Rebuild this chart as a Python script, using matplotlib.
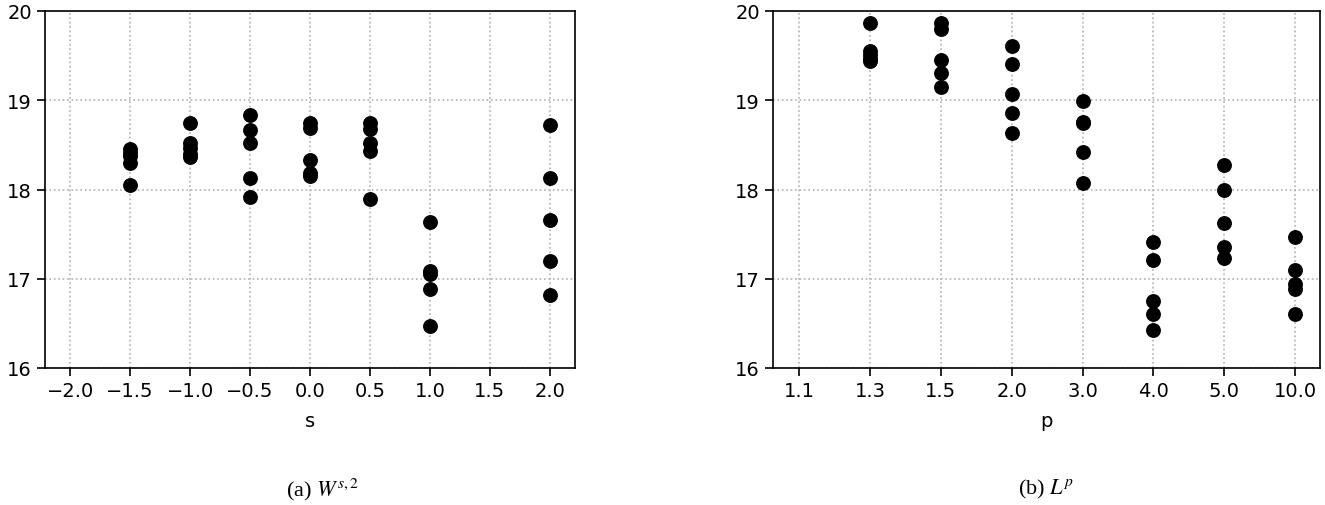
import matplotlib
matplotlib.use("Agg")
import matplotlib.pyplot as plt
import numpy as np

# Left panel: W^{s,2}
s_values = [-1.5, -1.0, -0.5, 0.0, 0.5, 1.0, 2.0]
s_scores = [
    [18.45, 18.41, 18.38, 18.30, 18.05],
    [18.74, 18.52, 18.46, 18.40, 18.36],
    [18.83, 18.67, 18.52, 18.13, 17.92],
    [18.75, 18.69, 18.33, 18.19, 18.15],
    [18.75, 18.68, 18.52, 18.43, 17.89],
    [17.64, 17.09, 17.05, 16.89, 16.47],
    [18.72, 18.13, 17.66, 17.20, 16.82],
]
s_ticks = [-2.0, -1.5, -1.0, -0.5, 0.0, 0.5, 1.0, 1.5, 2.0]

# Right panel: L^p
p_labels = ["1.1", "1.3", "1.5", "2.0", "3.0", "4.0", "5.0", "10.0"]
p_scores = [
    [],
    [19.86, 19.55, 19.51, 19.46, 19.44],
    [19.87, 19.80, 19.45, 19.30, 19.15],
    [19.61, 19.41, 19.07, 18.86, 18.63],
    [18.99, 18.76, 18.74, 18.42, 18.07],
    [17.41, 17.21, 16.75, 16.60, 16.43],
    [18.28, 17.99, 17.63, 17.36, 17.23],
    [17.47, 17.10, 16.94, 16.89, 16.61],
]
y_ticks = [16, 17, 18, 19, 20]

fig = plt.figure(figsize=(13.25, 5.06), dpi=100)
ax1 = fig.add_axes([45/1325, 137/506, 530/1325, 357/506])
ax2 = fig.add_axes([773/1325, 137/506, 547/1325, 357/506])

MS = 115
for x, ys in zip(s_values, s_scores):
    ax1.scatter([x]*len(ys), ys, s=MS, color="black", zorder=3, linewidths=0)
for i, ys in enumerate(p_scores):
    if ys:
        ax2.scatter([i]*len(ys), ys, s=MS, color="black", zorder=3, linewidths=0)

ax1.set_xlim(-2.21, 2.21)
ax1.set_xticks(s_ticks)
ax1.set_xticklabels([f"{t:.1f}".replace("-", "\u2212") for t in s_ticks])
ax1.set_xlabel("s", fontsize=14, labelpad=8)

ax2.set_xlim(-0.37, len(p_labels) - 1 + 0.35)
ax2.set_xticks(range(len(p_labels)))
ax2.set_xticklabels(p_labels)
ax2.set_xlabel("p", fontsize=14, labelpad=8)

for ax in (ax1, ax2):
    ax.set_ylim(16, 20)
    ax.set_yticks(y_ticks)
    ax.tick_params(labelsize=14, length=6, width=1.2)
    ax.grid(True, linestyle=":", color="#b0b0b0", linewidth=1.2)
    ax.set_axisbelow(True)
    for sp in ax.spines.values():
        sp.set_linewidth(1.2)

plt.rcParams["mathtext.fontset"] = "stix"
fig.text(0.243, 0.032, r"(a) $W^{s,2}$", ha="center", va="center",
         fontsize=16, family="Liberation Serif")
fig.text(0.789, 0.032, r"(b) $L^{p}$", ha="center", va="center",
         fontsize=16, family="Liberation Serif")

fig.savefig("out.png", dpi=100)
